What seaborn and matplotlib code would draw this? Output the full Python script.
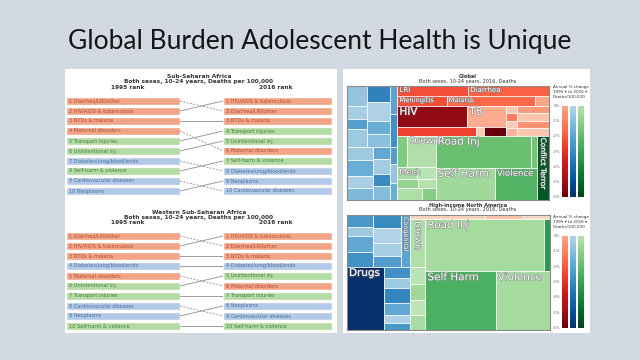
import numpy as np
import pandas as pd
import matplotlib
matplotlib.use("Agg")
import matplotlib.pyplot as plt
import matplotlib.patheffects as pe
from matplotlib.colors import ListedColormap
import seaborn as sns

# ---------------------------------------------------------------------------
# Data
# ---------------------------------------------------------------------------
SLIDE_TITLE = "Global Burden Adolescent Health is Unique"

RANK_SUBTITLE = "Both sexes, 10-24 years, Deaths per 100,000"
YEAR_A = "1995 rank"
YEAR_B = "2016 rank"

SSA_TITLE = "Sub-Saharan Africa"
SSA_1995 = ["Diarrhea/LRI/other", "HIV/AIDS & tuberculosis", "NTDs & malaria",
            "Maternal disorders", "Transport injuries", "Unintentional inj",
            "Diabetes/urog/blood/endo", "Self-harm & violence",
            "Cardiovascular diseases", "Neoplasms"]
SSA_2016 = ["HIV/AIDS & tuberculosis", "Diarrhea/LRI/other", "NTDs & malaria",
            "Transport injuries", "Unintentional inj", "Maternal disorders",
            "Self-harm & violence", "Diabetes/urog/blood/endo", "Neoplasms",
            "Cardiovascular diseases"]

WSSA_TITLE = "Western Sub-Saharan Africa"
WSSA_1995 = ["Diarrhea/LRI/other", "HIV/AIDS & tuberculosis", "NTDs & malaria",
             "Diabetes/urog/blood/endo", "Maternal disorders", "Unintentional inj",
             "Transport injuries", "Cardiovascular diseases", "Neoplasms",
             "Self-harm & violence"]
WSSA_2016 = ["HIV/AIDS & tuberculosis", "Diarrhea/LRI/other", "NTDs & malaria",
             "Diabetes/urog/blood/endo", "Unintentional inj", "Maternal disorders",
             "Transport injuries", "Neoplasms", "Cardiovascular diseases",
             "Self-harm & violence"]

CAUSE_GROUP = {
    "Diarrhea/LRI/other": "comm", "HIV/AIDS & tuberculosis": "comm",
    "NTDs & malaria": "comm", "Maternal disorders": "comm",
    "Transport injuries": "inj", "Unintentional inj": "inj",
    "Self-harm & violence": "inj",
    "Diabetes/urog/blood/endo": "ncd", "Cardiovascular diseases": "ncd",
    "Neoplasms": "ncd",
}

# treemaps: (label, share of area, annual % change), nested lists = sub-blocks
GLOBAL_TITLE = "Global"
NA_TITLE = "High-income North America"
TREE_SUBTITLE = "Both sexes, 10-24 years, 2016, Deaths"

GLOBAL_NCD = [
    [[("", 4.0, -1.2), ("", 2.5, -0.8), ("", 2.0, -2.5), ("", 3.7, -1.0)],
     [("", 3.6, -3.5), ("", 4.5, -0.6), ("", 3.0, -2.0), ("", 2.9, -1.4)],
     [("", 2.0, -2.4), ("", 2.3, -3.0)]],
    [[("", 3.5, -1.0), ("", 4.0, -2.0), ("", 3.3, -0.7), ("", 3.0, -1.6)],
     [("", 2.0, -2.2), ("", 2.5, -0.9), ("", 2.2, -3.2), ("", 2.3, -1.5)],
     [("", 1.2, -2.6), ("", 1.3, -1.2), ("", 1.2, -2.0)]],
]
GLOBAL_COMM = [[
    [("LRI", 7.1, -2.6), ("Diarrhea", 8.1, -2.2)],
    [("Meningitis", 4.7, -2.6), ("Malaria", 8.5, -2.0), ("", 1.3, -0.5)],
    [[[("HIV", 14.7, -5.3), ("TB", 8.2, -0.4)],
      [("", 6.7, -2.9), ("", 0.7, 0.5), ("", 1.9, -6.0)]],
     [[("", 0.8, 0.3), ("", 2.4, -0.8)], [("", 0.8, -1.5), ("", 2.4, 0.2)],
      [("", 0.8, 0.4), ("", 2.4, -1.0)], [("", 0.8, -0.2), ("", 2.3, 0.3)]]],
]]
GLOBAL_INJ = [
    [[("", 3.1, -1.7), ("Drown", 8.7, -0.6)],
     [("Mech", 2.4, -0.8), ("", 2.2, -0.4)],
     [("", 1.8, -1.3), ("", 1.6, -0.5)],
     [("", 3.0, -0.7), ("", 1.6, -1.6)]],
    [[("Road Inj", 30.4, -2.2), ("", 1.9, -2.0)],
     [("Self Harm", 18.9, -1.0), ("Violence", 13.4, -2.6)]],
    ("Conflict Terror", 7.7, -5.5),
]

NA_NCD = [
    [[("", 3.0, -2.8), ("", 2.5, -1.0), ("", 4.0, -2.2), ("", 4.0, -3.0)],
     [("", 3.5, -3.2), ("", 4.0, -0.5), ("", 3.5, -0.8), ("", 3.0, -2.6)],
     ("Congenital", 4.7, -2.4)],
    [("Drugs", 22.7, -6.0),
     [("", 3.0, -3.0), ("", 2.5, -1.0), ("", 4.0, -3.4), ("", 3.0, -2.2),
      ("", 2.0, -0.6), ("", 1.9, -2.8)]],
]
NA_COMM = [("", 3.0, 0.6), ("", 1.5, 0.2), ("", 1.1, 0.8)]
NA_INJ = [
    [("Drown", 7.2, -0.6), ("", 2.5, -0.4), ("", 2.5, -1.0), ("", 2.3, -0.3),
     ("", 2.2, -0.8)],
    [[("Road Inj", 60.7, -0.9), ("", 3.1, -3.6)],
     [("Self Harm", 40.6, -2.8), ("Violence", 31.3, -0.9)]],
]

LEGEND_TICKS = ["0%", "-1%", "-2%", "-3%", "-4%", "-5%", "-6%"]
LEGEND_LINES = ["Annual % change", "1995 \u25be to 2016 \u25be", "Deaths/100,000"]

# ---------------------------------------------------------------------------
# Styles
# ---------------------------------------------------------------------------
W, H = 640, 360
BG = "#d3d9e3"
ROW_FILL = {"comm": "#f2a487", "inj": "#b4dba4", "ncd": "#b1c9e7"}
ROW_TEXT = {"comm": "#b0513a", "inj": "#4d7c44", "ncd": "#4f6f9a"}
FAMILY_CMAP = {"ncd": "Blues", "comm": "Reds", "inj": "Greens"}

sns.set_theme(style="white")
plt.rcParams["font.family"] = ["DejaVu Sans"]

fig = plt.figure(figsize=(6.4, 3.6), dpi=100)
fig.patch.set_facecolor(BG)


def px_axes(x0, y0, x1, y1):
    return fig.add_axes([x0 / W, 1 - y1 / H, (x1 - x0) / W, (y1 - y0) / H])


def panel(x0, y0, x1, y1):
    fig.patches.append(plt.Rectangle((x0 / W, 1 - y1 / H), (x1 - x0) / W,
                                     (y1 - y0) / H, transform=fig.transFigure,
                                     facecolor="white", edgecolor="none", zorder=-5))


def ftext(x, y, s, **kw):
    fig.text(x / W, 1 - y / H, s, **kw)


fig.text(0.5, 1 - 42 / H, SLIDE_TITLE, ha="center", va="center",
         fontsize=19, family="Lato", color="#151515")

panel(65, 69, 337, 333)
panel(343, 69, 590, 333)


# ---------------------------------------------------------------------------
# Rank charts
# ---------------------------------------------------------------------------
def rank_column(ax, causes):
    df = pd.DataFrame({
        "label": [f"{i + 1} {c}" for i, c in enumerate(causes)],
        "w": 1.0,
        "grp": [CAUSE_GROUP[c] for c in causes],
    })
    sns.barplot(data=df, x="w", y="label", hue="grp", palette=ROW_FILL,
                dodge=False, width=0.86, saturation=1, legend=False, ax=ax)
    for i, row in df.iterrows():
        ax.text(0.025, i, row["label"], va="center", ha="left", fontsize=3.6,
                color=ROW_TEXT[row["grp"]])
    ax.set_xlim(0, 1)
    ax.set_ylim(len(df) - 0.5, -0.5)
    ax.axis("off")


def rank_chart(top, title, before, after):
    rows_top = top + 19
    rows_bot = rows_top + 100
    ftext(199, top, title, ha="center", va="center", fontsize=4.2,
          fontweight="bold", color="#333333")
    ftext(199, top + 5, RANK_SUBTITLE, ha="center", va="center", fontsize=4.2,
          fontweight="bold", color="#333333")
    ftext(128, top + 10.5, YEAR_A, ha="center", va="center", fontsize=4.2,
          fontweight="bold", color="#333333")
    ftext(276, top + 10.5, YEAR_B, ha="center", va="center", fontsize=4.2,
          fontweight="bold", color="#333333")

    rank_column(px_axes(66, rows_top, 180, rows_bot), before)
    rank_column(px_axes(223, rows_top, 332, rows_bot), after)

    axm = px_axes(180, rows_top, 223, rows_bot)
    for i, cause in enumerate(before):
        j = after.index(cause)
        axm.plot([0, 1], [i, j], color="#9c9c9c", lw=0.7,
                 ls="-" if j <= i else (0, (2, 1.5)))
    axm.set_xlim(0, 1)
    axm.set_ylim(len(before) - 0.5, -0.5)
    axm.axis("off")


rank_chart(77, SSA_TITLE, SSA_1995, SSA_2016)
rank_chart(212, WSSA_TITLE, WSSA_1995, WSSA_2016)


# ---------------------------------------------------------------------------
# Treemaps
# ---------------------------------------------------------------------------
def tag(node, fam):
    if isinstance(node, tuple):
        return node + (fam,)
    return [tag(c, fam) for c in node]


def node_sum(node):
    if isinstance(node, tuple):
        return node[1]
    return sum(node_sum(c) for c in node)


def layout(node, x, y, w, h, horiz, out):
    if isinstance(node, tuple):
        out.append((node, x, y, w, h))
        return
    total = node_sum(node)
    pos = 0.0
    for child in node:
        f = node_sum(child) / total
        if horiz:
            layout(child, x + pos * w, y, f * w, h, not horiz, out)
        else:
            layout(child, x, y + pos * h, w, f * h, not horiz, out)
        pos += f


def shade(fam, change):
    cmap = sns.color_palette(FAMILY_CMAP[fam], as_cmap=True)
    return cmap(float(np.clip(0.25 + 0.75 * (-change) / 6.0, 0.12, 1.0)))


def treemap(box, title_y, title, ncd, comm, inj):
    x0, y0, x1, y1 = box
    ftext(468, title_y, title, ha="center", va="center", fontsize=3.6,
          fontweight="bold", color="#333333")
    ftext(468, title_y + 5, TREE_SUBTITLE, ha="center", va="center",
          fontsize=3.6, color="#333333")
    ax = px_axes(x0, y0, x1, y1)
    wpx, hpx = x1 - x0, y1 - y0
    cells = []
    layout([tag(ncd, "ncd"), [tag(comm, "comm"), tag(inj, "inj")]],
           0, 0, 1, 1, True, cells)
    for (label, val, change, fam), x, y, w, h in cells:
        ax.bar(x, h, width=w, bottom=y, align="edge", color=shade(fam, change),
               edgecolor="white", linewidth=0.5)
        if not label:
            continue
        cw, ch = w * wpx, h * hpx
        stroke = [pe.withStroke(linewidth=0.7, foreground="#7d7d7d")]
        if ch > 2.5 * cw:
            fs = min(6.5, 0.5 * cw, ch * 0.95 / (0.55 * len(label) * 1.39))
            ax.text(x + w / 2, y + 2 / hpx, label, rotation=-90, ha="center",
                    va="top", fontsize=fs, color="white", path_effects=stroke)
        else:
            fs = min(7.5, 0.5 * ch, cw * 0.9 / (0.55 * len(label) * 1.39))
            ax.text(x + 2 / wpx, y + 1 / hpx, label, ha="left", va="top",
                    fontsize=fs, color="white", path_effects=stroke)
    ax.set_xlim(0, 1)
    ax.set_ylim(1, 0)
    ax.set_xticks([])
    ax.set_yticks([])
    for s in ax.spines.values():
        s.set_color("#8a8a8a")
        s.set_linewidth(0.8)


def legend(top, bar_top, bar_bot):
    for k, line in enumerate(LEGEND_LINES):
        ftext(553, top + k * 5, line, ha="left", va="center", fontsize=3,
              color="#333333")
    n = len(LEGEND_TICKS)
    for k, t in enumerate(LEGEND_TICKS):
        ftext(560, bar_top + k * (bar_bot - bar_top) / (n - 1), t, ha="right",
              va="center", fontsize=2.8, color="#666666")
    grad = np.linspace(0, 1, 100).reshape(-1, 1)
    for k, fam in enumerate(["comm", "ncd", "inj"]):
        base = sns.color_palette(FAMILY_CMAP[fam], as_cmap=True)
        cmap = ListedColormap(base(np.linspace(0.32, 1.0, 256)))
        ax = px_axes(562 + k * 8, bar_top, 568 + k * 8, bar_bot)
        sns.heatmap(grad, cmap=cmap, cbar=False, xticklabels=False,
                    yticklabels=False, ax=ax)


treemap((347, 86, 549, 200), 76, GLOBAL_TITLE, GLOBAL_NCD, GLOBAL_COMM, GLOBAL_INJ)
treemap((347, 215, 550, 330), 205, NA_TITLE, NA_NCD, NA_COMM, NA_INJ)
legend(87, 106, 197)
legend(217, 236, 328)

fig.savefig("out.png", dpi=100, facecolor=BG)
